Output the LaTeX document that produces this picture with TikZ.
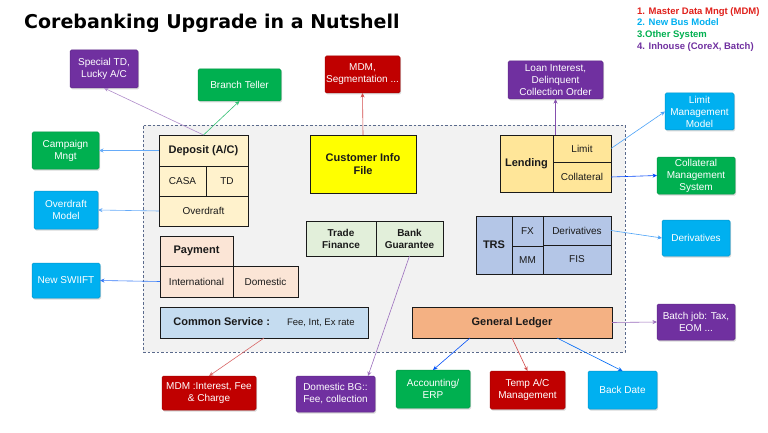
\documentclass[tikz,border=0pt]{standalone}
\usepackage{fontspec}
\setmainfont{Liberation Sans}
\newfontfamily\titlefont{DejaVu Sans}
\usetikzlibrary{arrows.meta,shadows}
\definecolor{ink}{HTML}{1A1A1A}
\definecolor{frameline}{HTML}{5A6A8C}
\definecolor{panelbg}{HTML}{F2F2F2}
\definecolor{depo}{HTML}{FFF2CC}
\definecolor{pay}{HTML}{FBE5D6}
\definecolor{common}{HTML}{C5DCF0}
\definecolor{cifyel}{HTML}{FFFF00}
\definecolor{trade}{HTML}{E2EFDA}
\definecolor{lend}{HTML}{FFE699}
\definecolor{trs}{HTML}{B4C6E7}
\definecolor{gl}{HTML}{F4B183}
\definecolor{mdmred}{HTML}{C00000}
\definecolor{busblue}{HTML}{00B0F0}
\definecolor{othgreen}{HTML}{00B050}
\definecolor{inpurple}{HTML}{7030A0}
\definecolor{legred}{HTML}{E0201B}
\tikzset{
  cell/.style={anchor=north west, draw=ink, line width=0.8pt, inner sep=1pt, outer sep=0pt, align=center, text=ink, font=\fontsize{10}{12}\selectfont},
  head/.style={cell, font=\fontsize{11}{13}\selectfont\bfseries},
  sub/.style={cell, font=\fontsize{10}{12}\selectfont\bfseries},
  ext/.style={anchor=north west, fill=#1, draw=#1!85!black, line width=0.5pt, rounded corners=1.5pt, inner sep=1pt, outer sep=0pt, align=center, text=white, font=\fontsize{10}{12}\selectfont, drop shadow={shadow xshift=1pt, shadow yshift=-1.5pt, opacity=0.3}},
  panel/.style={anchor=north west, fill=panelbg, draw=frameline, dashed, dash pattern=on 2.5pt off 2pt, line width=0.9pt, inner sep=0pt, outer sep=0pt},
  arr/.style={-{Stealth[length=4.5pt,width=4pt]}, line width=0.6pt, draw=#1},
}

\begin{document}
\begin{tikzpicture}[x=1pt, y=-1pt]
  \useasboundingbox (0,0) rectangle (768,433);
  \fill[white] (0,0) rectangle (768,433);

  % title and legend
  \node[anchor=west, font=\titlefont\bfseries\fontsize{19}{22}\selectfont, text=black, inner sep=0pt] (title) at (24,23) {Corebanking Upgrade in a Nutshell};
  \node[anchor=north west, align=left, inner sep=0pt, font=\fontsize{9.5}{11.8}\selectfont\bfseries] (legend) at (637,7)
    {\color{legred}1. Master Data Mngt (MDM)\\\color{busblue}2. New Bus Model\\\color{othgreen}3.Other System\\\color{inpurple}4. Inhouse (CoreX, Batch)};

  % core system
  \node[panel, minimum width=482, minimum height=227] (core) at (143,125) {};

  \node[head, fill=depo, minimum width=89, minimum height=31] (dep) at (159,135) {Deposit (A/C)};
  \node[cell, fill=depo, minimum width=47, minimum height=30] (casa) at (159,166) {CASA};
  \node[cell, fill=depo, minimum width=42, minimum height=30] (td) at (206,166) {TD};
  \node[cell, fill=depo, minimum width=89, minimum height=30] (od) at (159,196) {Overdraft};

  \node[head, fill=pay, minimum width=73, minimum height=30] (pay) at (160,236) {Payment};
  \node[cell, fill=pay, minimum width=73, minimum height=31] (intl) at (160,266) {International};
  \node[cell, fill=pay, minimum width=65, minimum height=31] (dom) at (233,266) {Domestic};

  \node[cell, fill=common, minimum width=208, minimum height=31] (cs) at (160,307)
    {{\fontsize{11}{13}\selectfont\bfseries Common Service :}\hspace{17pt}{\fontsize{9.5}{11}\selectfont Fee, Int, Ex rate}};

  \node[head, fill=cifyel, minimum width=106, minimum height=58] (cif) at (310,135) {Customer Info\\File};

  \node[sub, fill=trade, minimum width=70, minimum height=35] (tf) at (306,221) {Trade\\Finance};
  \node[sub, fill=trade, minimum width=67, minimum height=35] (bg) at (376,221) {Bank\\Guarantee};

  \node[head, fill=lend, minimum width=53, minimum height=57] (lend) at (500,135) {Lending};
  \node[cell, fill=lend, minimum width=58, minimum height=27] (limit) at (553,135) {Limit};
  \node[cell, fill=lend, minimum width=58, minimum height=30] (coll) at (553,162) {Collateral};

  \node[head, fill=trs, minimum width=36, minimum height=58] (trs) at (476,216) {TRS};
  \node[cell, fill=trs, minimum width=31, minimum height=30] (fx) at (512,216) {FX};
  \node[cell, fill=trs, minimum width=68, minimum height=29] (deriv) at (543,216) {Derivatives};
  \node[cell, fill=trs, minimum width=31, minimum height=28] (mm) at (512,246) {MM};
  \node[cell, fill=trs, minimum width=68, minimum height=29] (fis) at (543,245) {FIS};

  \node[head, fill=gl, minimum width=200, minimum height=31] (gl) at (412,307) {General Ledger};

  % surrounding systems
  \node[ext=inpurple, minimum width=68, minimum height=38] (sptd) at (70,50) {Special TD,\\Lucky A/C};
  \node[ext=othgreen, minimum width=83, minimum height=32] (teller) at (198,69) {Branch Teller};
  \node[ext=mdmred, minimum width=75, minimum height=37] (mdmseg) at (325,56) {MDM,\\Segmentation ...};
  \node[ext=inpurple, minimum width=95, minimum height=38] (loan) at (508,61) {Loan Interest,\\Delinquent\\Collection Order};
  \node[ext=busblue, minimum width=69, minimum height=37] (lmm) at (665,93) {Limit\\Management\\Model};
  \node[ext=othgreen, minimum width=67, minimum height=37] (camp) at (32,132) {Campaign\\Mngt};
  \node[ext=othgreen, minimum width=78, minimum height=37] (cms) at (657,157) {Collateral\\Management\\System};
  \node[ext=busblue, minimum width=64, minimum height=38] (odm) at (34,191) {Overdraft\\Model};
  \node[ext=busblue, minimum width=68, minimum height=36] (derivx) at (662,220) {Derivatives};
  \node[ext=busblue, minimum width=68, minimum height=35] (swift) at (32,263) {New SWIIFT};
  \node[ext=inpurple, minimum width=78, minimum height=36] (batch) at (657,304) {Batch job: Tax,\\EOM ...};
  \node[ext=mdmred, minimum width=94, minimum height=34] (mdmint) at (162,376) {MDM :Interest, Fee\\\& Charge};
  \node[ext=inpurple, minimum width=79, minimum height=36] (dombg) at (296,376) {Domestic BG::\\Fee, collection};
  \node[ext=othgreen, minimum width=74, minimum height=38] (acct) at (396,370) {Accounting/\\ERP};
  \node[ext=mdmred, minimum width=75, minimum height=38] (temp) at (490,371) {Temp A/C\\Management};
  \node[ext=busblue, minimum width=69, minimum height=38] (back) at (588,371) {Back Date};

  % links
  \draw[arr=inpurple!55] (dep.north) -- (sptd.south);
  \draw[arr=othgreen!80] (dep.north) -- (teller.south);
  \draw[arr=mdmred!70] (cif.north) -- (mdmseg.south);
  \draw[arr=inpurple!85] (loan.south |- limit.north) -- (loan.south);
  \draw[arr=busblue!70!blue!70] (limit.east) -- (lmm.west);
  \draw[arr=blue!60!busblue] (coll.east) -- (cms.west);
  \draw[arr=busblue!70!blue!70] (deriv.east) -- (derivx.west);
  \draw[arr=blue!35!busblue!60] (dep.west) -- (camp.east);
  \draw[arr=blue!35!busblue!60] (od.west) -- (odm.east);
  \draw[arr=blue!50!busblue!80] (intl.west) -- (swift.east);
  \draw[arr=mdmred!60] (cs.south) -- (mdmint.north);
  \draw[arr=inpurple!70] (bg.south) -- ([xshift=-7pt]dombg.north east);
  \draw[arr=blue!55!busblue] ([xshift=-42pt]gl.south) -- (acct.north);
  \draw[arr=mdmred!70] (gl.south) -- (temp.north);
  \draw[arr=blue!40!busblue] ([xshift=45pt]gl.south) -- (back.north);
  \draw[arr=inpurple!70] (gl.east) -- (batch.west);
\end{tikzpicture}
\end{document}
